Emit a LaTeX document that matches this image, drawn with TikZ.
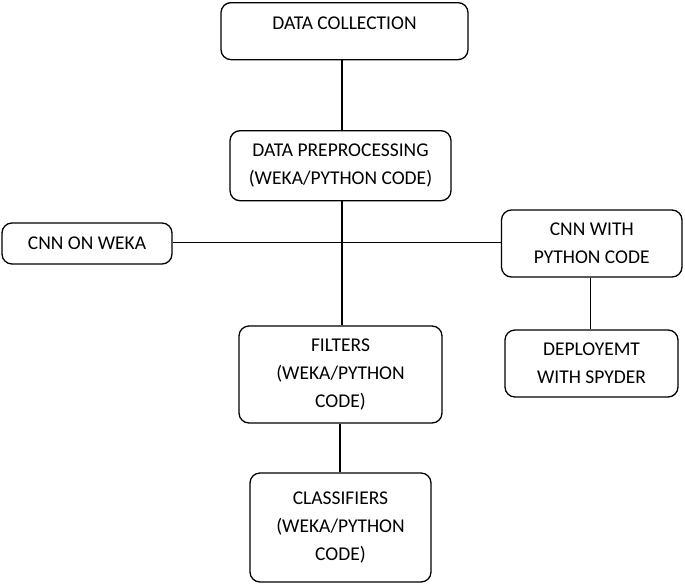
\documentclass[tikz,border=0pt]{standalone}
\usepackage{fontspec}
\setmainfont{Carlito}
\begin{document}
\begin{tikzpicture}[x=1pt,y=-1pt,
  box/.style={draw=black, line width=1.3pt, rounded corners=10pt, align=center,
    inner sep=0pt, font=\fontsize{19.5}{28}\selectfont},
  link/.style={draw=black, line width=1.3pt}]
\useasboundingbox (0,0) rectangle (685,584);
\node[box, anchor=north, minimum width=247pt, text height=27.3pt, text depth=29.7pt]
  (dc) at (344.5,2) {DATA COLLECTION};
\node[box, minimum width=221pt, minimum height=70pt] (dp) at (340.5,165.7)
  {DATA PREPROCESSING\\(WEKA/PYTHON CODE)};
\node[box, minimum width=170pt, minimum height=41pt] (weka) at (87,243.5) {CNN ON WEKA};
\node[box, minimum width=180.5pt, minimum height=67pt] (cnnpy) at (591.75,243.5)
  {CNN WITH\\PYTHON CODE};
\node[box, minimum width=203pt, minimum height=97pt] (filt) at (340.5,374.5)
  {FILTERS\\(WEKA/PYTHON\\CODE)};
\node[box, minimum width=181pt, minimum height=109pt] (cls) at (340.5,527.5)
  {CLASSIFIERS\\(WEKA/PYTHON\\CODE)};
\node[box, minimum width=173pt, minimum height=67pt] (dep) at (591.5,363.5)
  {DEPLOYEMT\\WITH SPYDER};
\coordinate (v1) at (342,0);
\coordinate (v2) at (340,0);
\coordinate (v3) at (590.5,0);
\coordinate (h1) at (0,242.3);
\draw[link] (dc.south -| v1) -- (dp.north -| v1);
\draw[link] (dp.south -| v1) -- (filt.north -| v1);
\draw[link] (weka.east |- h1) -- (cnnpy.west |- h1);
\draw[link] (filt.south -| v2) -- (cls.north -| v2);
\draw[link] (cnnpy.south -| v3) -- (dep.north -| v3);
\end{tikzpicture}
\end{document}
